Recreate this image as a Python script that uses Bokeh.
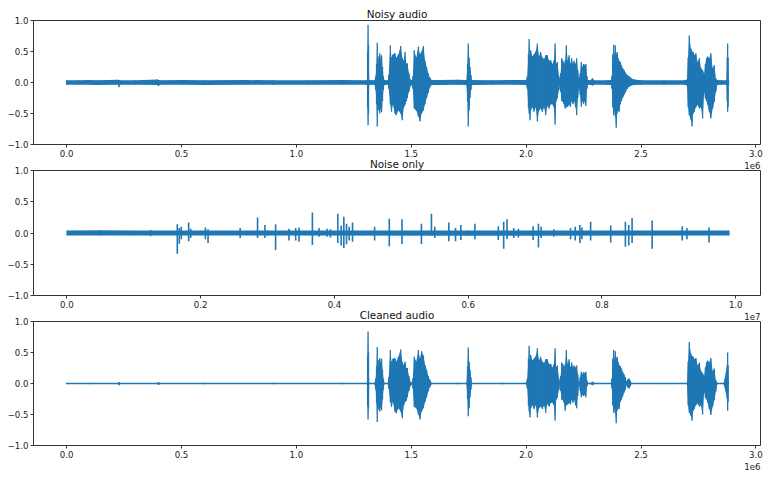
from bokeh.plotting import figure
from bokeh.layouts import column
from bokeh.models import Range1d, FixedTicker, Title
from bokeh.embed import file_html
from bokeh.resources import INLINE

# ---------------- data ----------------
titles = ["Noisy audio", "Noise only", "Cleaned audio"]
y_ticks = [-1.0, -0.5, 0.0, 0.5, 1.0]
y_tick_labels = ["\u22121.0", "\u22120.5", "0.0", "0.5", "1.0"]
x_ticks_audio = [0.0, 0.5, 1.0, 1.5, 2.0, 2.5, 3.0]          # x 1e6 samples
x_ticks_noise = [0.0, 0.2, 0.4, 0.6, 0.8, 1.0]                # x 1e7 samples
x_range_audio = [-0.144, 3.02]                                # x 1e6
x_range_noise = [-0.05, 1.037]                                # x 1e7

# Noisy audio: amplitude envelope (positions in millions of samples)
noisy_pos = [0.000, 0.050, 0.100, 0.130, 0.225, 0.228, 0.232, 0.300, 0.395, 0.400, 0.405, 0.500, 0.600, 0.780, 0.900, 1.050, 1.200, 1.300, 1.308,
             1.310, 1.312, 1.314, 1.317, 1.340,
             1.345, 1.349, 1.352, 1.355, 1.359, 1.363, 1.367, 1.371, 1.375, 1.379, 1.383, 1.398,
             1.402, 1.409, 1.414, 1.420, 1.429, 1.435, 1.444, 1.454, 1.461, 1.468, 1.473, 1.479, 1.483, 1.490, 1.497, 1.503,
             1.507, 1.513, 1.522, 1.531, 1.538, 1.545, 1.553, 1.560, 1.567, 1.574, 1.581, 1.589,
             1.620, 1.700, 1.740,
             1.745, 1.748, 1.752, 1.756, 1.760, 1.764,
             1.850, 1.950, 2.000,
             2.005, 2.010, 2.013, 2.017, 2.020, 2.027, 2.034, 2.042, 2.049, 2.056, 2.063, 2.071, 2.078, 2.085, 2.092, 2.100,
             2.107, 2.114, 2.121, 2.126, 2.131, 2.136, 2.143, 2.147, 2.150, 2.155, 2.160, 2.165, 2.170, 2.175, 2.181, 2.187,
             2.193, 2.198, 2.204, 2.209, 2.215, 2.220, 2.225, 2.230, 2.235, 2.240, 2.245, 2.250, 2.255, 2.260, 2.265, 2.268,
             2.280, 2.289, 2.295, 2.350, 2.370,
             2.373, 2.377, 2.381, 2.385, 2.388, 2.392, 2.396, 2.400, 2.405, 2.410, 2.415, 2.420, 2.426, 2.432, 2.440, 2.448, 2.458, 2.470,
             2.500, 2.600, 2.690,
             2.700, 2.705, 2.710, 2.717, 2.722, 2.727, 2.732, 2.739, 2.746, 2.754, 2.761, 2.768, 2.775, 2.780, 2.785, 2.790, 2.797, 2.804, 2.812, 2.819, 2.826, 2.832,
             2.850, 2.872, 2.875, 2.877, 2.879, 2.881]
noisy_hi = [0.035, 0.035, 0.040, 0.035, 0.045, 0.035, 0.035, 0.035, 0.050, 0.040, 0.035, 0.040, 0.035, 0.040, 0.035, 0.035, 0.040, 0.035, 0.035,
            0.50, 0.93, 0.60, 0.04, 0.035,
            0.10, 0.30, 0.64, 0.30, 0.42, 0.47, 0.38, 0.44, 0.25, 0.10, 0.04, 0.035,
            0.12, 0.60, 0.40, 0.45, 0.47, 0.40, 0.45, 0.59, 0.40, 0.35, 0.49, 0.30, 0.31, 0.15, 0.05, 0.035,
            0.10, 0.52, 0.40, 0.58, 0.45, 0.50, 0.59, 0.35, 0.25, 0.15, 0.08, 0.04,
            0.040, 0.045, 0.040,
            0.30, 0.63, 0.40, 0.25, 0.12, 0.04,
            0.035, 0.040, 0.040,
            0.10, 0.45, 0.70, 0.40, 0.52, 0.42, 0.45, 0.50, 0.63, 0.42, 0.49, 0.40, 0.38, 0.44, 0.44, 0.35,
            0.36, 0.30, 0.35, 0.63, 0.30, 0.33, 0.10, 0.05, 0.15, 0.39, 0.35, 0.30, 0.35, 0.60, 0.35, 0.44,
            0.30, 0.39, 0.30, 0.35, 0.30, 0.39, 0.20, 0.06, 0.15, 0.33, 0.25, 0.30, 0.28, 0.30, 0.10, 0.04,
            0.035, 0.070, 0.035, 0.035, 0.040,
            0.10, 0.45, 0.61, 0.40, 0.60, 0.45, 0.49, 0.40, 0.35, 0.33, 0.28, 0.23, 0.20, 0.16, 0.12, 0.10, 0.07, 0.05,
            0.035, 0.035, 0.035,
            0.05, 0.40, 0.76, 0.55, 0.50, 0.49, 0.44, 0.47, 0.33, 0.39, 0.23, 0.20, 0.14, 0.30, 0.39, 0.42, 0.39, 0.47, 0.23, 0.28, 0.06, 0.04,
            0.035, 0.035, 0.40, 0.63, 0.40, 0.035]
noisy_lo = [-0.035, -0.035, -0.035, -0.040, -0.035, -0.075, -0.035, -0.035, -0.040, -0.055, -0.035, -0.035, -0.040, -0.035, -0.035, -0.035, -0.035, -0.035, -0.035,
            -0.40, -0.69, -0.50, -0.04, -0.035,
            -0.12, -0.35, -0.71, -0.40, -0.45, -0.50, -0.42, -0.48, -0.30, -0.12, -0.04, -0.035,
            -0.10, -0.35, -0.47, -0.35, -0.50, -0.53, -0.45, -0.50, -0.61, -0.40, -0.36, -0.30, -0.25, -0.15, -0.06, -0.035,
            -0.10, -0.42, -0.45, -0.55, -0.63, -0.50, -0.45, -0.35, -0.25, -0.17, -0.08, -0.04,
            -0.040, -0.035, -0.040,
            -0.30, -0.71, -0.45, -0.25, -0.12, -0.04,
            -0.035, -0.035, -0.040,
            -0.10, -0.40, -0.50, -0.61, -0.45, -0.40, -0.47, -0.40, -0.63, -0.45, -0.42, -0.47, -0.40, -0.53, -0.38, -0.42,
            -0.35, -0.35, -0.40, -0.68, -0.30, -0.26, -0.12, -0.05, -0.15, -0.30, -0.31, -0.35, -0.42, -0.40, -0.39, -0.35,
            -0.39, -0.30, -0.35, -0.30, -0.40, -0.53, -0.25, -0.08, -0.20, -0.39, -0.30, -0.35, -0.30, -0.38, -0.10, -0.04,
            -0.035, -0.050, -0.035, -0.035, -0.040,
            -0.10, -0.40, -0.53, -0.45, -0.55, -0.73, -0.50, -0.45, -0.47, -0.35, -0.30, -0.25, -0.20, -0.16, -0.10, -0.07, -0.05, -0.04,
            -0.035, -0.035, -0.035,
            -0.05, -0.40, -0.53, -0.60, -0.71, -0.50, -0.47, -0.40, -0.36, -0.42, -0.40, -0.58, -0.15, -0.26, -0.30, -0.36, -0.47, -0.58, -0.42, -0.31, -0.15, -0.04,
            -0.035, -0.035, -0.30, -0.47, -0.40, -0.035]

# Noise only: background band (positions in units of 1e7 samples) and isolated clicks
noise_band_pos = [0.000, 0.050, 0.100, 0.300, 0.600, 0.990]
noise_band_hi = [0.040, 0.045, 0.040, 0.040, 0.040, 0.040]
noise_band_lo = [-0.040, -0.040, -0.040, -0.040, -0.045, -0.040]
noise_click_pos = [0.125, 0.165, 0.168, 0.171, 0.182, 0.185, 0.207, 0.211, 0.259, 0.285, 0.296, 0.312,
                   0.332, 0.342, 0.347, 0.367, 0.377, 0.389, 0.394, 0.405, 0.410, 0.414, 0.418, 0.422,
                   0.427, 0.460, 0.482, 0.501, 0.530, 0.545, 0.550, 0.571, 0.581, 0.589, 0.610, 0.645,
                   0.653, 0.658, 0.668, 0.675, 0.697, 0.705, 0.709, 0.728, 0.753, 0.760, 0.767, 0.770,
                   0.783, 0.813, 0.835, 0.840, 0.845, 0.875, 0.920, 0.927, 0.960]
noise_click_hi = [0.05, 0.14, 0.08, 0.10, 0.17, 0.07, 0.09, 0.06, 0.08, 0.25, 0.13, 0.14,
                  0.07, 0.08, 0.09, 0.33, 0.08, 0.07, 0.06, 0.31, 0.12, 0.26, 0.15, 0.10,
                  0.17, 0.10, 0.23, 0.22, 0.15, 0.31, 0.10, 0.17, 0.08, 0.13, 0.15, 0.11,
                  0.18, 0.22, 0.08, 0.07, 0.11, 0.15, 0.10, 0.06, 0.08, 0.10, 0.13, 0.09,
                  0.18, 0.12, 0.18, 0.13, 0.24, 0.20, 0.11, 0.08, 0.09]
noise_click_lo = [-0.05, -0.33, -0.17, -0.10, -0.13, -0.08, -0.10, -0.16, -0.08, -0.08, -0.08, -0.27,
                  -0.12, -0.12, -0.14, -0.19, -0.06, -0.06, -0.07, -0.16, -0.20, -0.24, -0.18, -0.12,
                  -0.14, -0.12, -0.21, -0.175, -0.175, -0.04, -0.08, -0.13, -0.13, -0.11, -0.10, -0.11,
                  -0.25, -0.10, -0.08, -0.07, -0.11, -0.23, -0.08, -0.06, -0.10, -0.12, -0.16, -0.10,
                  -0.12, -0.15, -0.22, -0.20, -0.16, -0.25, -0.12, -0.10, -0.15]

# Cleaned audio: amplitude envelope (positions in millions of samples)
clean_pos = [0.000, 0.100, 0.225, 0.228, 0.232, 0.395, 0.400, 0.405, 0.600, 0.900, 1.200, 1.308,
             1.310, 1.312, 1.314, 1.317, 1.340,
             1.345, 1.349, 1.352, 1.355, 1.359, 1.363, 1.367, 1.371, 1.375, 1.379, 1.383, 1.398,
             1.402, 1.409, 1.414, 1.420, 1.429, 1.435, 1.444, 1.454, 1.461, 1.468, 1.473, 1.479, 1.483, 1.490, 1.497, 1.503,
             1.507, 1.513, 1.522, 1.531, 1.538, 1.545, 1.553, 1.560, 1.567, 1.574, 1.581, 1.589,
             1.700, 1.740,
             1.745, 1.748, 1.752, 1.756, 1.760, 1.764,
             1.900, 2.000,
             2.005, 2.010, 2.013, 2.017, 2.020, 2.027, 2.034, 2.042, 2.049, 2.056, 2.063, 2.071, 2.078, 2.085, 2.092, 2.100,
             2.107, 2.114, 2.121, 2.126, 2.131, 2.136, 2.143, 2.147, 2.150, 2.155, 2.160, 2.165, 2.170, 2.175, 2.181, 2.187,
             2.193, 2.198, 2.204, 2.209, 2.215, 2.220, 2.225, 2.230, 2.235, 2.240, 2.245, 2.250, 2.255, 2.260, 2.265, 2.268,
             2.280, 2.289, 2.295, 2.370,
             2.373, 2.377, 2.381, 2.385, 2.388, 2.392, 2.396, 2.400, 2.405, 2.410, 2.415, 2.420, 2.426, 2.432, 2.438, 2.443, 2.448, 2.453, 2.458,
             2.600, 2.700,
             2.705, 2.710, 2.717, 2.722, 2.727, 2.732, 2.739, 2.746, 2.754, 2.761, 2.768, 2.775, 2.780, 2.785, 2.790, 2.797, 2.804, 2.812, 2.819, 2.826, 2.832,
             2.860, 2.875, 2.877, 2.879, 2.881]
clean_hi = [0.012, 0.012, 0.012, 0.025, 0.012, 0.012, 0.020, 0.012, 0.012, 0.012, 0.012, 0.012,
            0.45, 0.84, 0.50, 0.012, 0.012,
            0.08, 0.28, 0.59, 0.28, 0.38, 0.41, 0.33, 0.40, 0.22, 0.08, 0.012, 0.012,
            0.10, 0.54, 0.35, 0.40, 0.41, 0.35, 0.43, 0.55, 0.35, 0.30, 0.35, 0.25, 0.25, 0.12, 0.03, 0.012,
            0.08, 0.43, 0.35, 0.54, 0.40, 0.52, 0.45, 0.30, 0.22, 0.12, 0.06, 0.012,
            0.012, 0.012,
            0.28, 0.58, 0.35, 0.22, 0.10, 0.012,
            0.012, 0.012,
            0.08, 0.40, 0.61, 0.35, 0.46, 0.37, 0.40, 0.44, 0.57, 0.37, 0.43, 0.35, 0.33, 0.39, 0.39, 0.31,
            0.32, 0.26, 0.31, 0.57, 0.26, 0.29, 0.08, 0.012, 0.12, 0.34, 0.31, 0.26, 0.31, 0.54, 0.31, 0.39,
            0.26, 0.34, 0.26, 0.29, 0.26, 0.29, 0.15, 0.012, 0.10, 0.19, 0.15, 0.18, 0.16, 0.19, 0.05, 0.012,
            0.012, 0.030, 0.012, 0.012,
            0.08, 0.40, 0.54, 0.35, 0.52, 0.40, 0.43, 0.35, 0.30, 0.28, 0.24, 0.19, 0.15, 0.10, 0.03, 0.07, 0.08, 0.05, 0.012,
            0.012, 0.012,
            0.35, 0.67, 0.48, 0.44, 0.43, 0.39, 0.41, 0.29, 0.34, 0.20, 0.17, 0.12, 0.26, 0.34, 0.37, 0.34, 0.41, 0.20, 0.24, 0.05, 0.012,
            0.012, 0.30, 0.50, 0.30, 0.012]
clean_lo = [-0.012, -0.012, -0.012, -0.030, -0.012, -0.012, -0.020, -0.012, -0.012, -0.012, -0.012, -0.012,
            -0.35, -0.58, -0.40, -0.012, -0.012,
            -0.10, -0.32, -0.62, -0.35, -0.42, -0.45, -0.38, -0.43, -0.26, -0.10, -0.012, -0.012,
            -0.08, -0.30, -0.38, -0.30, -0.45, -0.48, -0.40, -0.45, -0.56, -0.35, -0.30, -0.28, -0.22, -0.12, -0.04, -0.012,
            -0.08, -0.38, -0.40, -0.50, -0.58, -0.45, -0.40, -0.30, -0.22, -0.13, -0.06, -0.012,
            -0.012, -0.012,
            -0.25, -0.53, -0.40, -0.22, -0.10, -0.012,
            -0.012, -0.012,
            -0.08, -0.35, -0.45, -0.55, -0.40, -0.35, -0.41, -0.35, -0.55, -0.40, -0.37, -0.41, -0.35, -0.47, -0.33, -0.37,
            -0.31, -0.31, -0.35, -0.60, -0.26, -0.23, -0.10, -0.012, -0.12, -0.26, -0.27, -0.31, -0.44, -0.35, -0.34, -0.31,
            -0.34, -0.26, -0.31, -0.26, -0.35, -0.40, -0.20, -0.012, -0.12, -0.22, -0.18, -0.20, -0.18, -0.22, -0.05, -0.012,
            -0.012, -0.030, -0.012, -0.012,
            -0.08, -0.35, -0.47, -0.40, -0.48, -0.64, -0.44, -0.40, -0.41, -0.30, -0.26, -0.21, -0.15, -0.10, -0.03, -0.07, -0.08, -0.05, -0.012,
            -0.012, -0.012,
            -0.35, -0.47, -0.52, -0.60, -0.44, -0.41, -0.35, -0.32, -0.37, -0.35, -0.50, -0.13, -0.23, -0.26, -0.31, -0.41, -0.51, -0.37, -0.27, -0.13, -0.012,
            -0.012, -0.25, -0.44, -0.30, -0.012]

assert len(noisy_pos) == len(noisy_hi) == len(noisy_lo)
assert len(clean_pos) == len(clean_hi) == len(clean_lo)
assert len(noise_click_pos) == len(noise_click_hi) == len(noise_click_lo)

# ---------------- styling ----------------
BLUE = "#1f77b4"
FONT = "DejaVu Sans"
TICK_SIZE = "8.6px"
TITLE_SIZE = "10.4px"
FRAME_W = 727
LEFT = 33
RIGHT = 8


def make_fig(height, top, bottom, xr, scale, ticks, title, margin_top=0):
    p = figure(width=LEFT + FRAME_W + RIGHT, height=height,
               x_range=Range1d(xr[0] * scale, xr[1] * scale), y_range=Range1d(-1, 1),
               output_backend="svg", toolbar_location=None,
               min_border_left=LEFT, min_border_right=RIGHT,
               min_border_top=top, min_border_bottom=bottom, title=title)
    p.border_fill_color = None
    p.background_fill_color = "white"
    p.outline_line_color = "#333333"
    p.outline_line_width = 1
    p.xgrid.visible = False
    p.ygrid.visible = False
    p.title.align = "center"
    p.title.text_font = FONT
    p.title.text_font_size = TITLE_SIZE
    p.title.text_font_style = "normal"
    p.title.text_color = "#111111"
    p.title.standoff = 2
    for ax in (p.xaxis[0], p.yaxis[0]):
        ax.axis_line_color = None
        ax.major_tick_out = 3
        ax.major_tick_in = 0
        ax.minor_tick_out = 0
        ax.minor_tick_in = 0
        ax.major_tick_line_color = "#333333"
        ax.major_label_text_font = FONT
        ax.major_label_text_font_size = TICK_SIZE
        ax.major_label_text_color = "#222222"
        ax.major_label_standoff = 2
    p.xaxis.ticker = FixedTicker(ticks=[t * scale for t in ticks])
    p.xaxis.major_label_overrides = {t * scale: f"{t:.1f}" for t in ticks}
    p.yaxis.ticker = FixedTicker(ticks=y_ticks)
    p.yaxis.major_label_overrides = dict(zip(y_ticks, y_tick_labels))
    if margin_top:
        p.margin = (margin_top, 0, 0, 0)
    return p


def add_exponent(p, text):
    p.add_layout(Title(text=text, align="right", text_font=FONT, text_font_size=TICK_SIZE,
                       text_font_style="normal", text_color="#222222", standoff=0), "below")


def draw_envelope(p, pos, hi, lo, scale, width):
    xs = [v * scale for v in pos]
    p.varea(x=xs, y1=lo, y2=hi, fill_color=BLUE)
    p.segment(x0=xs, y0=lo, x1=xs, y1=hi, line_color=BLUE, line_width=width)


# panel 1: noisy audio   (page rows 0..172, frame 20..144)
p1 = make_fig(172, 20, 28, x_range_audio, 1e6, x_ticks_audio, titles[0])
draw_envelope(p1, noisy_pos, noisy_hi, noisy_lo, 1e6, 1.3)
add_exponent(p1, "1e6")

# panel 2: noise only    (page rows 154..323, frame 169..295)
p2 = make_fig(169, 15, 28, x_range_noise, 1e7, x_ticks_noise, titles[1], margin_top=-18)
draw_envelope(p2, noise_band_pos, noise_band_hi, noise_band_lo, 1e7, 1.0)
cx = [v * 1e7 for v in noise_click_pos]
p2.segment(x0=cx, y0=noise_click_lo, x1=cx, y1=noise_click_hi, line_color=BLUE, line_width=1.6)
add_exponent(p2, "1e7")

# panel 3: cleaned audio (page rows 305..473, frame 320..445)
p3 = make_fig(168, 15, 28, x_range_audio, 1e6, x_ticks_audio, titles[2], margin_top=-18)
draw_envelope(p3, clean_pos, clean_hi, clean_lo, 1e6, 1.3)
add_exponent(p3, "1e6")

layout = column(p1, p2, p3, spacing=0)
open("out.html", "w").write(file_html(layout, INLINE))
